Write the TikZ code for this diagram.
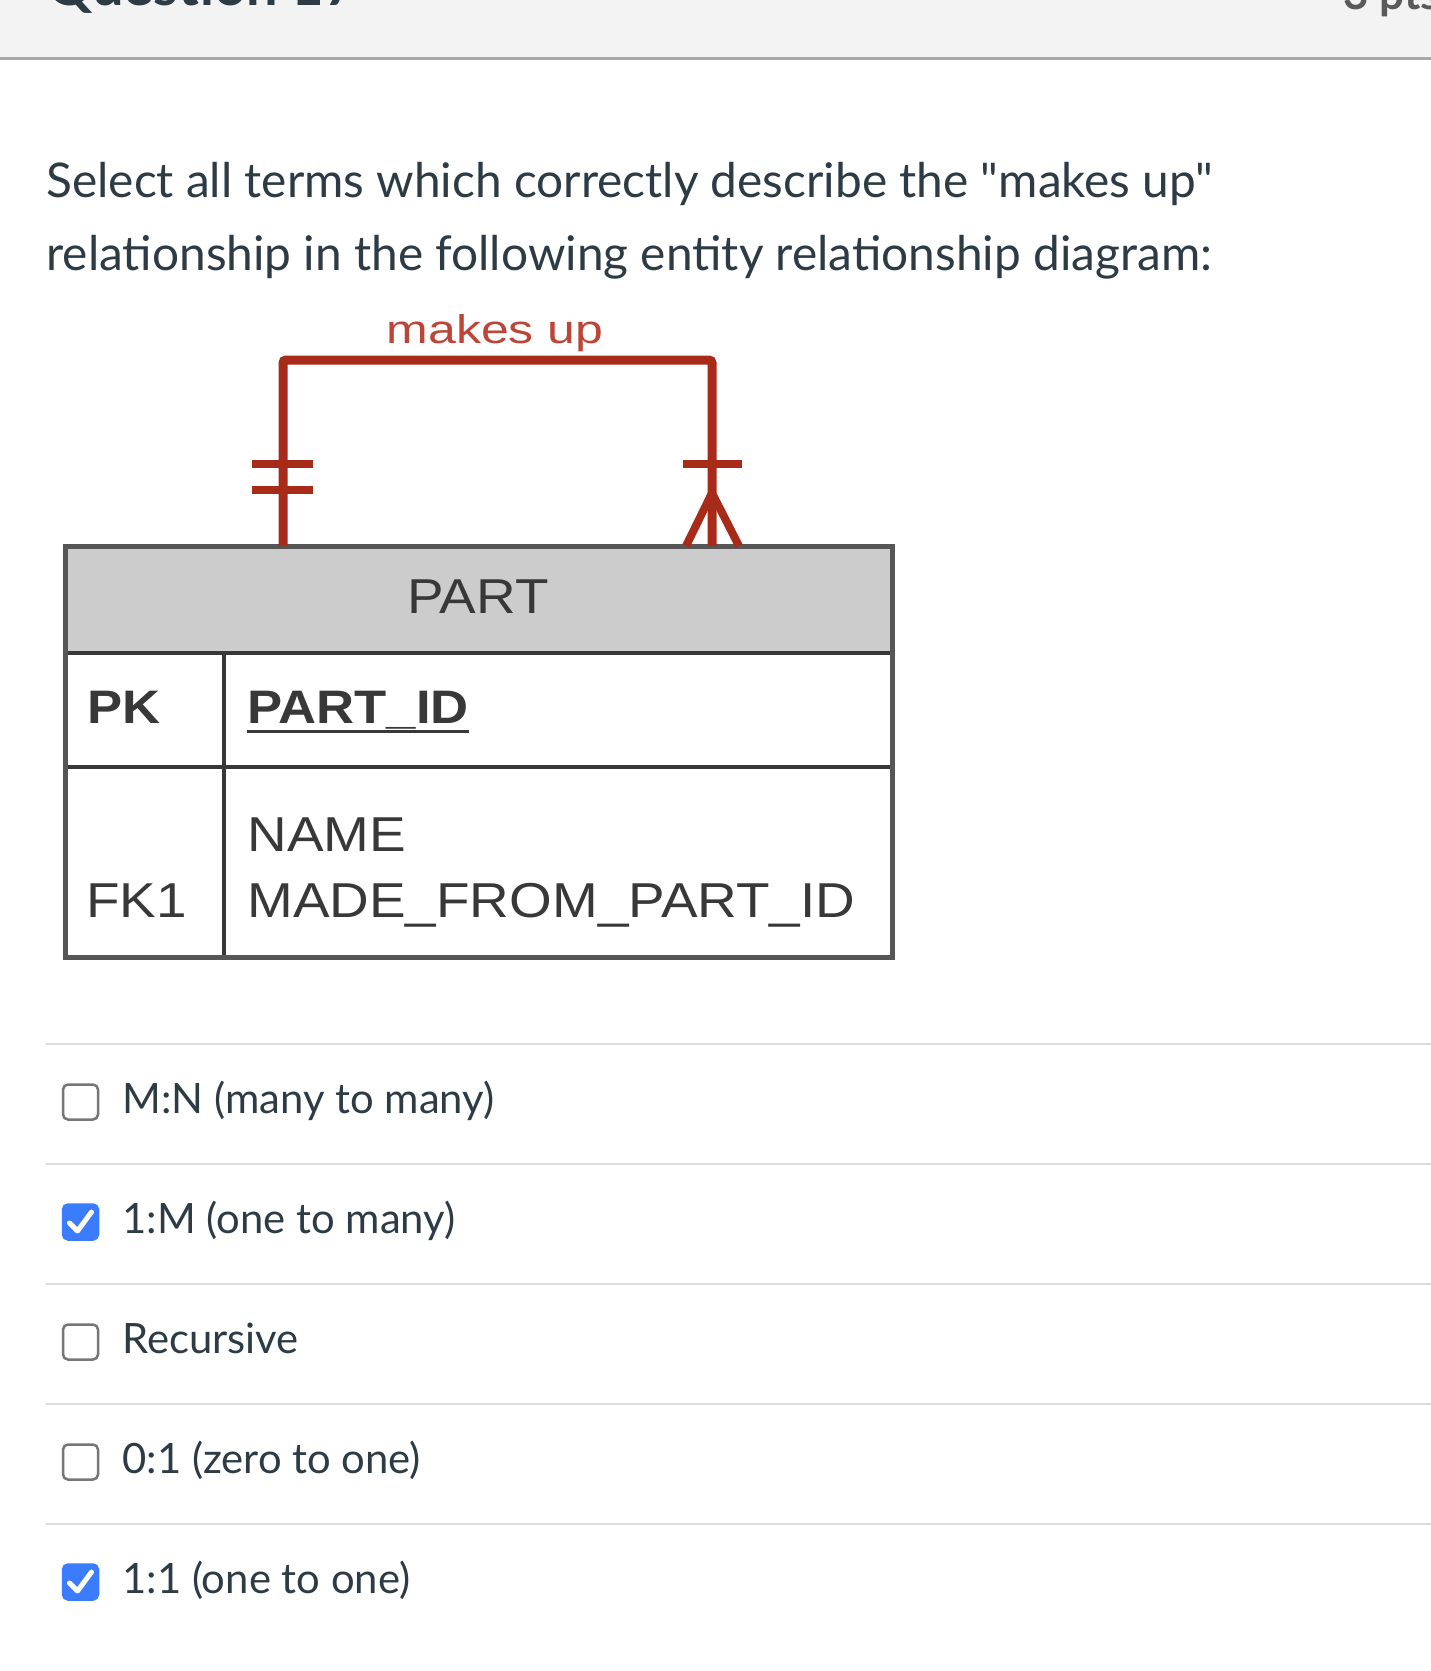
\documentclass[tikz,border=0pt]{standalone}
\usepackage{fontspec}
\newfontfamily\bodyfont{Lato}
\newfontfamily\erfont[FakeStretch=1.12]{Liberation Sans}
\newfontfamily\relfont[FakeStretch=1.25]{Liberation Sans}

\definecolor{inkdark}{HTML}{2D3B45}
\definecolor{headbg}{HTML}{F3F3F3}
\definecolor{headrule}{HTML}{A8A8A8}
\definecolor{ptsgray}{HTML}{5A5A5A}
\definecolor{seprule}{HTML}{DCDCDC}
\definecolor{boxgray}{HTML}{767676}
\definecolor{tickblue}{HTML}{3A7CFC}
\definecolor{relred}{HTML}{A82A18}
\definecolor{rellabel}{HTML}{BC4538}
\definecolor{erdark}{HTML}{383838}
\definecolor{erfill}{HTML}{CCCCCC}

\begin{document}
\begin{tikzpicture}[x=1pt, y=-1pt, thick]

    \tikzset{question/.style={%
      anchor=base west,%
      inner sep=0pt,%
      text=inkdark,%
      font=\bodyfont\fontsize{47.8}{56}\selectfont}%
    };

    \tikzset{answer/.style={question, font=\bodyfont\fontsize{41.8}{50}\selectfont}};

    \tikzset{tickbox/.style={%
      draw=boxgray,%
      line width=2.5pt,%
      fill=white,%
      rectangle,%
      rounded corners=5pt,%
      minimum size=35pt,%
      inner sep=0pt}%
    };

    \tikzset{tickedbox/.style={tickbox, draw=tickblue, fill=tickblue}};
    \tikzset{tick/.style={draw=white, line width=5pt, line cap=round, line join=round}};
    \tikzset{sep/.style={draw=seprule, line width=2.5pt}};

    \tikzset{erfield/.style={%
      anchor=base west,%
      inner sep=0pt,%
      text=erdark,%
      font=\erfont\fontsize{49}{58}\selectfont}%
    };

    \tikzset{erkey/.style={erfield, font=\erfont\bfseries\fontsize{47}{58}\selectfont}};
    \tikzset{erline/.style={draw=erdark, line width=3.5pt}};
    \tikzset{rel/.style={draw=relred, line width=9pt}};
    \tikzset{relmark/.style={draw=relred, line width=8pt}};

    \useasboundingbox (0,0) rectangle (1431,1671);

    %%%%%%%%%%%%%%%%%%%
    % question header %
    %%%%%%%%%%%%%%%%%%%
    \begin{scope}
      \clip (0,0) rectangle (1431,57);
      \fill [headbg] (0,0) rectangle (1431,57);
      \path (47,5) coordinate (qhead) node [anchor=base west, inner sep=0pt, text=inkdark,
        font=\bodyfont\bfseries\fontsize{56}{60}\selectfont] (qtitle) {Question 17};
      \path (1343,9) coordinate (phead) node [anchor=base west, inner sep=0pt, text=ptsgray,
        font=\bodyfont\bfseries\fontsize{44}{50}\selectfont] (qpts) {3 pts};
    \end{scope}
    \draw [headrule, line width=3pt] (0,58.5) -- (1431,58.5);

    %%%%%%%%%%%%
    % question %
    %%%%%%%%%%%%
    \path (46,197) coordinate (q1) node [question] (line1)
      {Select all terms which correctly describe the "makes up"};

    \path (46,270) coordinate (q2) node [question] (line2)
      {relationship in the following entity relationship diagram:};

    %%%%%%%%%%%%%%
    % PART table %
    %%%%%%%%%%%%%%
    \fill [erfill] (65,546) rectangle (892,653);
    \draw [erline] (65,653) -- (892,653);
    \draw [erline] (65,767) -- (892,767);
    \draw [erline] (224,653) -- (224,957);
    \draw [erline, draw=erdark!85, line width=5pt] (65,546) rectangle (892,957);

    \path (478,613) coordinate (thead) node [erfield, anchor=base] (part) {PART};

    \path (87,723) coordinate (tpk) node [erkey] (pk) {PK};

    \path (247,723) coordinate (tpid) node [erkey] (partid) {PART\_ID};

    \path (247,851) coordinate (tname) node [erfield] (name) {NAME};

    \path (86,917) coordinate (tfk) node [erfield] (fk) {FK1};

    \path (247,917) coordinate (tmade) node [erfield] (madefrom) {MADE\_FROM\_PART\_ID};

    \draw [erdark, line width=3pt] ([yshift=-8pt]partid.base west) -- ([yshift=-8pt]partid.base east);

    %%%%%%%%%%%%%%%%%%%%%
    % makes up relation %
    %%%%%%%%%%%%%%%%%%%%%
    \path (283,546) coordinate (oneend);
    \path (712,546) coordinate (manyend);
    \path (497,360) coordinate (relmid);

    \path (495,343) coordinate (rlabel) node [anchor=base, inner sep=0pt, text=rellabel,
      font=\relfont\fontsize{40}{48}\selectfont] (makesup) {makes up};

    \draw [rel, rounded corners=3pt] (oneend) |- (relmid) -| (manyend);

    % one and only one
    \draw [relmark] (252,464) -- (313,464);
    \draw [relmark] (252,490) -- (313,490);

    % one or many
    \draw [relmark] (683,464) -- (742,464);
    \draw [relmark] (712,493) -- (686,546);
    \draw [relmark] (712,493) -- (739,546);

    %%%%%%%%%%%
    % answers %
    %%%%%%%%%%%
    \draw [sep] (46,1044) -- (1431,1044);
    \draw [sep] (46,1164) -- (1431,1164);
    \draw [sep] (46,1284) -- (1431,1284);
    \draw [sep] (46,1404) -- (1431,1404);
    \draw [sep] (46,1524) -- (1431,1524);

    \path (80.5,1102) coordinate (a1) node [tickbox] (cb1) {};
    \path (80.5,1222) coordinate (a2) node [tickedbox] (cb2) {};
    \path (80.5,1342) coordinate (a3) node [tickbox] (cb3) {};
    \path (80.5,1462) coordinate (a4) node [tickbox] (cb4) {};
    \path (80.5,1582) coordinate (a5) node [tickedbox] (cb5) {};

    \draw [tick] ([shift={(-11,1)}]cb2.center) -- ([shift={(-3,9)}]cb2.center) -- ([shift={(11,-10)}]cb2.center);
    \draw [tick] ([shift={(-11,1)}]cb5.center) -- ([shift={(-3,9)}]cb5.center) -- ([shift={(11,-10)}]cb5.center);

    \node [answer] (opt1) at (122,1113) {M:N (many to many)};
    \node [answer] (opt2) at (122,1233) {1:M (one to many)};
    \node [answer] (opt3) at (122,1353) {Recursive};
    \node [answer] (opt4) at (122,1473) {0:1 (zero to one)};
    \node [answer] (opt5) at (122,1593) {1:1 (one to one)};

  \end{tikzpicture}
\end{document}
